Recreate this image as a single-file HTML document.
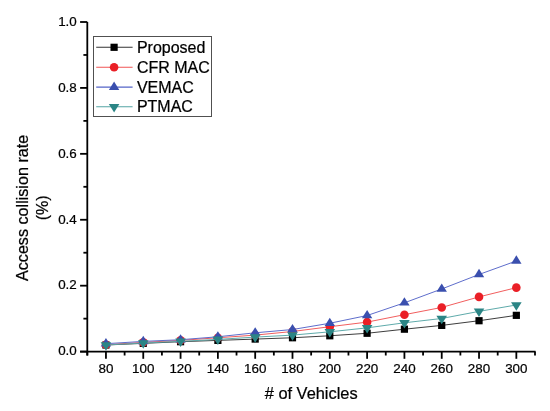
<!DOCTYPE html>
<html><head><meta charset="utf-8"><style>
html,body{margin:0;padding:0;background:#fff;}
body{width:550px;height:411px;overflow:hidden;}
svg{display:block;}
text{font-family:"Liberation Sans",Arial,sans-serif;fill:#000;stroke:#000;stroke-width:0.22px;}
</style></head><body>
<svg width="550" height="411" viewBox="0 0 550 411">
<rect width="550" height="411" fill="#fff"/>

<polyline points="105.95,345.01 143.26,343.36 180.57,341.71 217.88,340.39 255.19,339.08 292.49,337.76 329.80,335.78 367.11,333.27 404.42,329.19 441.73,325.40 479.03,320.72 516.34,315.34" fill="none" stroke="#333333" stroke-width="0.95"/>
<rect x="102.35" y="341.41" width="7.2" height="7.2" fill="#000000"/>
<rect x="139.66" y="339.76" width="7.2" height="7.2" fill="#000000"/>
<rect x="176.97" y="338.11" width="7.2" height="7.2" fill="#000000"/>
<rect x="214.28" y="336.79" width="7.2" height="7.2" fill="#000000"/>
<rect x="251.59" y="335.48" width="7.2" height="7.2" fill="#000000"/>
<rect x="288.89" y="334.16" width="7.2" height="7.2" fill="#000000"/>
<rect x="326.20" y="332.18" width="7.2" height="7.2" fill="#000000"/>
<rect x="363.51" y="329.67" width="7.2" height="7.2" fill="#000000"/>
<rect x="400.82" y="325.59" width="7.2" height="7.2" fill="#000000"/>
<rect x="438.13" y="321.80" width="7.2" height="7.2" fill="#000000"/>
<rect x="475.43" y="317.12" width="7.2" height="7.2" fill="#000000"/>
<rect x="512.74" y="311.74" width="7.2" height="7.2" fill="#000000"/>
<polyline points="105.95,344.68 143.26,342.37 180.57,340.39 217.88,337.76 255.19,335.12 292.49,331.49 329.80,326.72 367.11,322.10 404.42,314.68 441.73,307.43 479.03,296.89 516.34,287.66" fill="none" stroke="#f05555" stroke-width="0.95"/>
<circle cx="105.95" cy="344.68" r="4.3" fill="#ea1f26"/>
<circle cx="143.26" cy="342.37" r="4.3" fill="#ea1f26"/>
<circle cx="180.57" cy="340.39" r="4.3" fill="#ea1f26"/>
<circle cx="217.88" cy="337.76" r="4.3" fill="#ea1f26"/>
<circle cx="255.19" cy="335.12" r="4.3" fill="#ea1f26"/>
<circle cx="292.49" cy="331.49" r="4.3" fill="#ea1f26"/>
<circle cx="329.80" cy="326.72" r="4.3" fill="#ea1f26"/>
<circle cx="367.11" cy="322.10" r="4.3" fill="#ea1f26"/>
<circle cx="404.42" cy="314.68" r="4.3" fill="#ea1f26"/>
<circle cx="441.73" cy="307.43" r="4.3" fill="#ea1f26"/>
<circle cx="479.03" cy="296.89" r="4.3" fill="#ea1f26"/>
<circle cx="516.34" cy="287.66" r="4.3" fill="#ea1f26"/>
<polyline points="105.95,343.69 143.26,341.38 180.57,339.73 217.88,336.77 255.19,332.81 292.49,329.52 329.80,323.25 367.11,315.51 404.42,302.82 441.73,288.98 479.03,274.47 516.34,260.96" fill="none" stroke="#5565c8" stroke-width="0.95"/>
<polygon points="105.95,338.09 111.15,346.49 100.75,346.49" fill="#3a4fae"/>
<polygon points="143.26,335.78 148.46,344.18 138.06,344.18" fill="#3a4fae"/>
<polygon points="180.57,334.13 185.77,342.53 175.37,342.53" fill="#3a4fae"/>
<polygon points="217.88,331.17 223.08,339.57 212.68,339.57" fill="#3a4fae"/>
<polygon points="255.19,327.21 260.39,335.61 249.99,335.61" fill="#3a4fae"/>
<polygon points="292.49,323.92 297.69,332.32 287.29,332.32" fill="#3a4fae"/>
<polygon points="329.80,317.65 335.00,326.05 324.60,326.05" fill="#3a4fae"/>
<polygon points="367.11,309.91 372.31,318.31 361.91,318.31" fill="#3a4fae"/>
<polygon points="404.42,297.22 409.62,305.62 399.22,305.62" fill="#3a4fae"/>
<polygon points="441.73,283.38 446.93,291.78 436.53,291.78" fill="#3a4fae"/>
<polygon points="479.03,268.87 484.23,277.27 473.83,277.27" fill="#3a4fae"/>
<polygon points="516.34,255.36 521.54,263.76 511.14,263.76" fill="#3a4fae"/>
<polyline points="105.95,345.01 143.26,343.03 180.57,341.38 217.88,339.40 255.19,337.10 292.49,335.12 329.80,331.82 367.11,327.87 404.42,322.79 441.73,318.48 479.03,311.39 516.34,304.99" fill="none" stroke="#55a5a5" stroke-width="0.95"/>
<polygon points="100.65,342.17 111.25,342.17 105.95,350.67" fill="#2b8585"/>
<polygon points="137.96,340.20 148.56,340.20 143.26,348.70" fill="#2b8585"/>
<polygon points="175.27,338.55 185.87,338.55 180.57,347.05" fill="#2b8585"/>
<polygon points="212.58,336.57 223.18,336.57 217.88,345.07" fill="#2b8585"/>
<polygon points="249.89,334.26 260.49,334.26 255.19,342.76" fill="#2b8585"/>
<polygon points="287.19,332.29 297.79,332.29 292.49,340.79" fill="#2b8585"/>
<polygon points="324.50,328.99 335.10,328.99 329.80,337.49" fill="#2b8585"/>
<polygon points="361.81,325.04 372.41,325.04 367.11,333.54" fill="#2b8585"/>
<polygon points="399.12,319.96 409.72,319.96 404.42,328.46" fill="#2b8585"/>
<polygon points="436.43,315.64 447.03,315.64 441.73,324.14" fill="#2b8585"/>
<polygon points="473.73,308.56 484.33,308.56 479.03,317.06" fill="#2b8585"/>
<polygon points="511.04,302.16 521.64,302.16 516.34,310.66" fill="#2b8585"/>
<line x1="87.3" y1="22.00" x2="87.3" y2="355.40" stroke="#000" stroke-width="1.8"/>
<line x1="80.10" y1="351.6" x2="535.5" y2="351.6" stroke="#000" stroke-width="1.8"/>
<line x1="80.10" y1="351.60" x2="87.3" y2="351.60" stroke="#000" stroke-width="1.8"/>
<text x="76.8" y="355.40" font-size="13.4" text-anchor="end">0.0</text>
<line x1="83.40" y1="318.64" x2="87.3" y2="318.64" stroke="#000" stroke-width="1.8"/>
<line x1="80.10" y1="285.68" x2="87.3" y2="285.68" stroke="#000" stroke-width="1.8"/>
<text x="76.8" y="289.48" font-size="13.4" text-anchor="end">0.2</text>
<line x1="83.40" y1="252.72" x2="87.3" y2="252.72" stroke="#000" stroke-width="1.8"/>
<line x1="80.10" y1="219.76" x2="87.3" y2="219.76" stroke="#000" stroke-width="1.8"/>
<text x="76.8" y="223.56" font-size="13.4" text-anchor="end">0.4</text>
<line x1="83.40" y1="186.80" x2="87.3" y2="186.80" stroke="#000" stroke-width="1.8"/>
<line x1="80.10" y1="153.84" x2="87.3" y2="153.84" stroke="#000" stroke-width="1.8"/>
<text x="76.8" y="157.64" font-size="13.4" text-anchor="end">0.6</text>
<line x1="83.40" y1="120.88" x2="87.3" y2="120.88" stroke="#000" stroke-width="1.8"/>
<line x1="80.10" y1="87.92" x2="87.3" y2="87.92" stroke="#000" stroke-width="1.8"/>
<text x="76.8" y="91.72" font-size="13.4" text-anchor="end">0.8</text>
<line x1="83.40" y1="54.96" x2="87.3" y2="54.96" stroke="#000" stroke-width="1.8"/>
<line x1="80.10" y1="22.00" x2="87.3" y2="22.00" stroke="#000" stroke-width="1.8"/>
<text x="76.8" y="25.80" font-size="13.4" text-anchor="end">1.0</text>
<line x1="87.30" y1="351.6" x2="87.30" y2="355.50" stroke="#000" stroke-width="1.8"/>
<line x1="105.95" y1="351.6" x2="105.95" y2="358.80" stroke="#000" stroke-width="1.8"/>
<text x="105.95" y="373.3" font-size="13.4" text-anchor="middle">80</text>
<line x1="124.61" y1="351.6" x2="124.61" y2="355.50" stroke="#000" stroke-width="1.8"/>
<line x1="143.26" y1="351.6" x2="143.26" y2="358.80" stroke="#000" stroke-width="1.8"/>
<text x="143.26" y="373.3" font-size="13.4" text-anchor="middle">100</text>
<line x1="161.92" y1="351.6" x2="161.92" y2="355.50" stroke="#000" stroke-width="1.8"/>
<line x1="180.57" y1="351.6" x2="180.57" y2="358.80" stroke="#000" stroke-width="1.8"/>
<text x="180.57" y="373.3" font-size="13.4" text-anchor="middle">120</text>
<line x1="199.22" y1="351.6" x2="199.22" y2="355.50" stroke="#000" stroke-width="1.8"/>
<line x1="217.88" y1="351.6" x2="217.88" y2="358.80" stroke="#000" stroke-width="1.8"/>
<text x="217.88" y="373.3" font-size="13.4" text-anchor="middle">140</text>
<line x1="236.53" y1="351.6" x2="236.53" y2="355.50" stroke="#000" stroke-width="1.8"/>
<line x1="255.19" y1="351.6" x2="255.19" y2="358.80" stroke="#000" stroke-width="1.8"/>
<text x="255.19" y="373.3" font-size="13.4" text-anchor="middle">160</text>
<line x1="273.84" y1="351.6" x2="273.84" y2="355.50" stroke="#000" stroke-width="1.8"/>
<line x1="292.49" y1="351.6" x2="292.49" y2="358.80" stroke="#000" stroke-width="1.8"/>
<text x="292.49" y="373.3" font-size="13.4" text-anchor="middle">180</text>
<line x1="311.15" y1="351.6" x2="311.15" y2="355.50" stroke="#000" stroke-width="1.8"/>
<line x1="329.80" y1="351.6" x2="329.80" y2="358.80" stroke="#000" stroke-width="1.8"/>
<text x="329.80" y="373.3" font-size="13.4" text-anchor="middle">200</text>
<line x1="348.46" y1="351.6" x2="348.46" y2="355.50" stroke="#000" stroke-width="1.8"/>
<line x1="367.11" y1="351.6" x2="367.11" y2="358.80" stroke="#000" stroke-width="1.8"/>
<text x="367.11" y="373.3" font-size="13.4" text-anchor="middle">220</text>
<line x1="385.76" y1="351.6" x2="385.76" y2="355.50" stroke="#000" stroke-width="1.8"/>
<line x1="404.42" y1="351.6" x2="404.42" y2="358.80" stroke="#000" stroke-width="1.8"/>
<text x="404.42" y="373.3" font-size="13.4" text-anchor="middle">240</text>
<line x1="423.07" y1="351.6" x2="423.07" y2="355.50" stroke="#000" stroke-width="1.8"/>
<line x1="441.73" y1="351.6" x2="441.73" y2="358.80" stroke="#000" stroke-width="1.8"/>
<text x="441.73" y="373.3" font-size="13.4" text-anchor="middle">260</text>
<line x1="460.38" y1="351.6" x2="460.38" y2="355.50" stroke="#000" stroke-width="1.8"/>
<line x1="479.03" y1="351.6" x2="479.03" y2="358.80" stroke="#000" stroke-width="1.8"/>
<text x="479.03" y="373.3" font-size="13.4" text-anchor="middle">280</text>
<line x1="497.69" y1="351.6" x2="497.69" y2="355.50" stroke="#000" stroke-width="1.8"/>
<line x1="516.34" y1="351.6" x2="516.34" y2="358.80" stroke="#000" stroke-width="1.8"/>
<text x="516.34" y="373.3" font-size="13.4" text-anchor="middle">300</text>
<line x1="535.00" y1="351.6" x2="535.00" y2="355.50" stroke="#000" stroke-width="1.8"/>
<text x="311.2" y="398.5" font-size="16.4" text-anchor="middle"># of Vehicles</text>
<g transform="translate(27.6,207.9) rotate(-90)"><text x="0" y="0" font-size="16.15" text-anchor="middle">Access collision rate</text><text x="0" y="20.2" font-size="16" text-anchor="middle">(%)</text></g>
<rect x="93.5" y="36.5" width="118" height="80" fill="#fff" stroke="#505050" stroke-width="1"/>
<line x1="96.2" y1="47.3" x2="132.6" y2="47.3" stroke="#333333" stroke-width="1.1"/>
<rect x="110.50" y="43.70" width="7.2" height="7.2" fill="#000000"/>
<text x="136.9" y="52.6" font-size="16">Proposed</text>
<line x1="96.2" y1="67.3" x2="132.6" y2="67.3" stroke="#f05555" stroke-width="1.1"/>
<circle cx="114.10" cy="67.30" r="4.3" fill="#ea1f26"/>
<text x="136.9" y="72.5" font-size="16">CFR MAC</text>
<line x1="96.2" y1="87.1" x2="132.6" y2="87.1" stroke="#5565c8" stroke-width="1.1"/>
<polygon points="114.10,81.50 119.30,89.90 108.90,89.90" fill="#3a4fae"/>
<text x="136.9" y="92.8" font-size="16">VEMAC</text>
<line x1="96.2" y1="106.8" x2="132.6" y2="106.8" stroke="#55a5a5" stroke-width="1.1"/>
<polygon points="108.80,103.97 119.40,103.97 114.10,112.47" fill="#2b8585"/>
<text x="136.9" y="112.4" font-size="16">PTMAC</text>
</svg>
</body></html>
